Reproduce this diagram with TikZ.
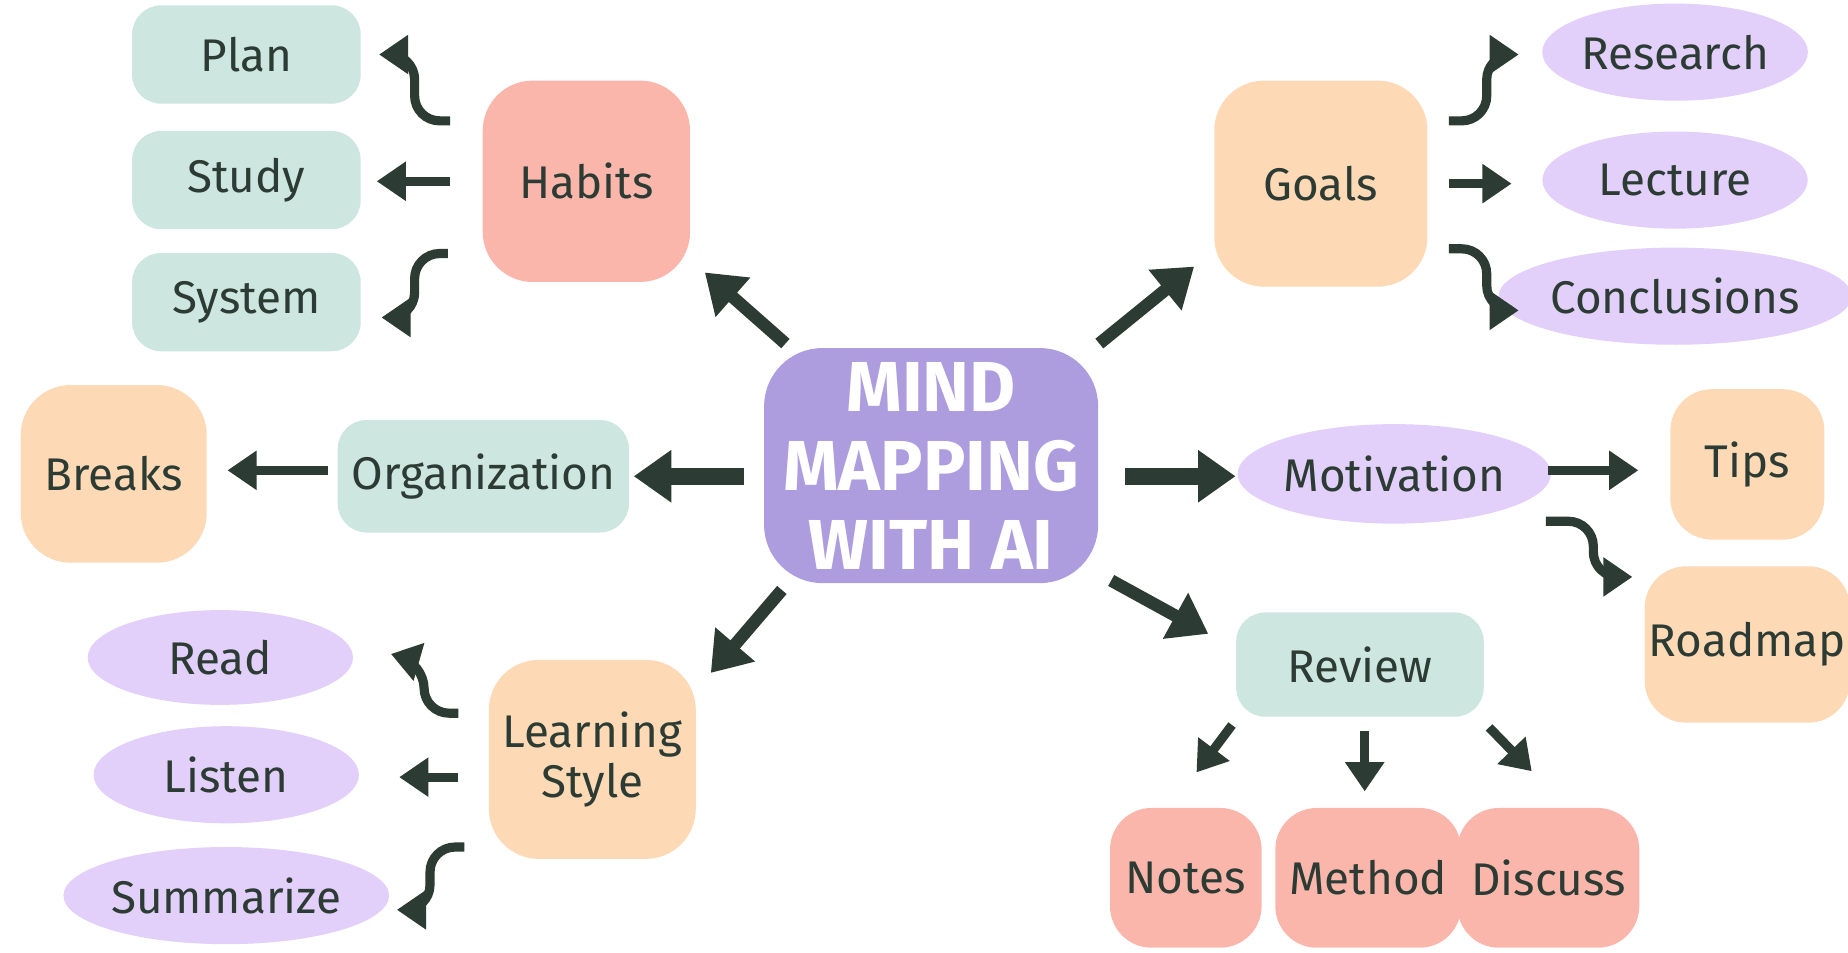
\documentclass[tikz,border=0pt]{standalone}
\usepackage{fontspec}
\setmainfont{Fira Sans}
\usetikzlibrary{arrows.meta}
\definecolor{cpurple}{HTML}{AD9CDE}
\definecolor{cmint}{HTML}{CDE6DF}
\definecolor{csalmon}{HTML}{FBB6AC}
\definecolor{cpeach}{HTML}{FDD9B6}
\definecolor{clav}{HTML}{E2CFFA}
\definecolor{cdark}{HTML}{2C3B33}
\tikzset{
 box/.style={rounded corners=7pt,minimum width=#1,align=center,text=cdark,font=\fontsize{11}{12}\selectfont},
 mint/.style={box=1.93cm,fill=cmint,minimum height=0.83cm},
 sq/.style={box=#1,fill=csalmon},
 ell/.style={ellipse,fill=clav,text=cdark,font=\fontsize{11}{12}\selectfont,minimum width=2.24cm,minimum height=0.82cm,inner sep=0pt},
 arr/.style={draw=cdark,line width=2.2pt,-{Triangle[length=7pt,width=9pt]},rounded corners=6pt},
 big/.style={draw=cdark,line width=3pt,-{Triangle[length=9pt,width=12pt]}},
}
\usetikzlibrary{shapes.geometric}
\begin{document}
\begin{tikzpicture}[x=1cm,y=-1cm]
\useasboundingbox[fill=white] (0,0) rectangle (15.6,8.04);
% center
\node[box=2.82cm,fill=cpurple,minimum height=1.8cm,text=white,font=\fontsize{17}{19}\bfseries\selectfont,rounded corners=14pt] (c) at (7.86,3.93) {MIND\\MAPPING\\WITH AI};
% left top
\node[mint] (plan) at (2.08,0.46) {Plan};
\node[mint] (study) at (2.08,1.52) {Study};
\node[mint] (sys) at (2.08,2.55) {System};
\node[box=1.75cm,fill=csalmon,minimum height=1.7cm,rounded corners=12pt] (hab) at (4.95,1.53) {Habits};
% right top
\node[box=1.8cm,fill=cpeach,minimum height=1.74cm,rounded corners=12pt] (goals) at (11.15,1.55) {Goals};
\node[ell] (res) at (14.14,0.44) {Research};
\node[ell] (lec) at (14.14,1.52) {Lecture};
\node[ell] (con) at (14.14,2.50) {Conclusions};
% middle
\node[box=2.23cm,fill=cmint,minimum height=0.95cm] (org) at (4.08,4.02) {Organization};
\node[box=1.57cm,fill=cpeach,minimum height=1.5cm,rounded corners=12pt] (brk) at (0.96,4.00) {Breaks};
\node[ell,minimum width=2.4cm,minimum height=0.84cm] (mot) at (11.77,4.00) {Motivation};
\node[box=1.3cm,fill=cpeach,minimum height=1.27cm,rounded corners=10pt] (tips) at (14.75,3.92) {Tips};
\node[box=1.3cm,fill=cpeach,minimum height=1.32cm,rounded corners=10pt,inner sep=1pt] (road) at (14.75,5.44) {Roadmap};
% review
\node[box=2.09cm,fill=cmint,minimum height=0.88cm] (rev) at (11.48,5.61) {Review};
\node[box=1.28cm,fill=csalmon,minimum height=1.18cm,rounded corners=10pt] (notes) at (10.01,7.41) {Notes};
\node[box=1.25cm,fill=csalmon,minimum height=1.18cm,rounded corners=10pt] (meth) at (11.55,7.41) {Method};
\node[box=1.25cm,fill=csalmon,minimum height=1.18cm,rounded corners=10pt] (disc) at (13.07,7.41) {Discuss};
% learning
\node[box=1.74cm,fill=cpeach,minimum height=1.68cm,rounded corners=12pt] (ls) at (5.00,6.41) {Learning\\Style};
\node[ell,minimum height=0.8cm] (read) at (1.86,5.55) {Read};
\node[ell] (lis) at (1.91,6.54) {Listen};
\node[ell] (sum) at (1.91,7.56) {Summarize};
% center arrows
\draw[big] (6.63,2.90) -- (5.95,2.30);
\draw[big] (9.28,2.90) -- (10.08,2.25);
\draw[big,line width=4pt] (6.28,4.02) -- (5.35,4.02);
\draw[big,line width=4pt] (9.50,4.02) -- (10.43,4.02);
\draw[big] (6.60,4.98) -- (6.00,5.68);
\draw[big] (9.38,4.90) -- (10.20,5.35);
% habits
\draw[arr] (3.80,1.02) -| (3.50,0.46) -- (3.20,0.46);
\draw[arr] (3.80,1.53) -- (3.18,1.53);
\draw[arr] (3.78,2.14) -| (3.50,2.68) -- (3.22,2.68);
% goals
\draw[arr] (12.23,1.02) -| (12.55,0.46) -- (12.82,0.46);
\draw[arr] (12.23,1.55) -- (12.76,1.55);
\draw[arr] (12.23,2.10) -| (12.55,2.62) -- (12.82,2.62);
% org / motivation
\draw[arr] (2.77,3.97) -- (1.92,3.97);
\draw[arr] (13.07,3.97) -- (13.83,3.97);
\draw[arr] (13.05,4.40) -| (13.45,4.87) -- (13.78,4.87);
% review
\draw[arr] (10.40,6.12) -- (10.10,6.52);
\draw[arr] (11.52,6.17) -- (11.52,6.68);
\draw[arr] (12.57,6.14) -- (12.93,6.51);
% learning
\draw[arr] (3.87,6.02) -| (3.58,5.60) -- (3.30,5.52);
\draw[arr] (3.87,6.56) -- (3.37,6.56);
\draw[arr] (3.92,7.15) -| (3.63,7.68) -- (3.35,7.68);
\end{tikzpicture}
\end{document}
